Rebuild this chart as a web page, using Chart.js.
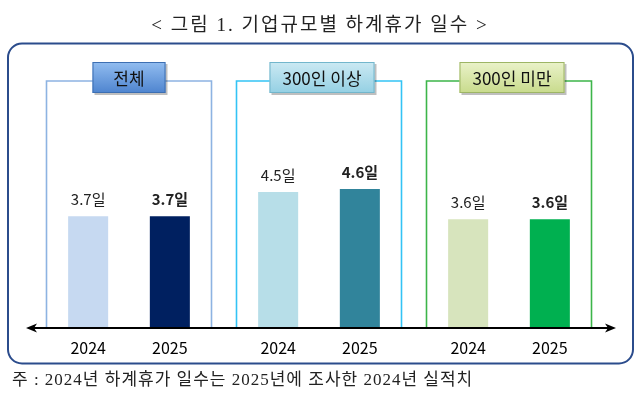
<!DOCTYPE html>
<html lang="ko">
<head>
<meta charset="utf-8">
<title>기업규모별 하계휴가 일수</title>
<script src="https://cdn.jsdelivr.net/npm/chart.js@4.4.1/dist/chart.umd.min.js"></script>
<style>
  html, body { margin: 0; padding: 0; background: #fff; }
  #wrap { position: relative; width: 640px; height: 394px; overflow: hidden; }
  #vacationChart { position: absolute; left: 0; top: 0; }
  .serif { position: absolute; font-family: "Liberation Serif", "DejaVu Serif", "Noto Sans CJK KR", serif; color: #222; white-space: nowrap; }
  #title { left: 0; top: 11px; width: 640px; text-align: center; font-size: 19px; line-height: 28px; letter-spacing: 2px; }
  #note { left: 12px; top: 368px; font-size: 17px; line-height: 24px; letter-spacing: 1px; }
</style>
</head>
<body>
<div id="wrap">
  <canvas id="vacationChart" width="640" height="394"></canvas>
  <div id="title" class="serif">&lt; 그림 1. 기업규모별 하계휴가 일수 &gt;</div>
  <div id="note" class="serif">주 : 2024년 하계휴가 일수는 2025년에 조사한 2024년 실적치</div>
</div>
<script>
const groups = ["전체", "300인 이상", "300인 미만"];
const years = ["2024", "2025"];
const days2024 = [3.7, 4.5, 3.6];
const days2025 = [3.7, 4.6, 3.6];

const colors2024 = ["#c6d9f1", "#b7dee8", "#d7e4bd"];
const colors2025 = ["#002060", "#31849b", "#00b050"];
const frameColors = ["#8db3e2", "#33c3f5", "#3db54a"];
const tagFills = [["#92bdf0", "#4e84cf"], ["#cbe9f3", "#94d0e3"], ["#eaf2c9", "#c8db8c"]];
const tagBorders = ["#3d6fb2", "#72b6cc", "#9db565"];
const tagWidths = [73, 105, 105];

const FONT = "'Noto Sans CJK KR', 'Noto Sans', sans-serif";
Chart.defaults.font.family = FONT;

// frames, axis arrow, labels and tag boxes
const decorPlugin = {
  id: "decor",
  beforeDraw(chart) {
    const ctx = chart.ctx;
    ctx.save();
    ctx.strokeStyle = "#2b4c8c";
    ctx.lineWidth = 2;
    ctx.beginPath();
    ctx.roundRect(8, 43.5, 625, 320, 14);
    ctx.stroke();
    ctx.restore();
  },
  beforeDatasetsDraw(chart) {
    const ctx = chart.ctx;
    const x = chart.scales.x;
    const base = chart.scales.y.getPixelForValue(0);
    const top = 81;
    const half = 82.5;
    ctx.save();
    ctx.lineWidth = 1.6;
    groups.forEach((g, i) => {
      const cx = x.getPixelForValue(i);
      ctx.strokeStyle = frameColors[i];
      ctx.beginPath();
      ctx.moveTo(cx - half, base);
      ctx.lineTo(cx - half, top);
      ctx.lineTo(cx + half, top);
      ctx.lineTo(cx + half, base);
      ctx.stroke();
    });
    ctx.restore();
  },
  afterDatasetsDraw(chart) {
    const ctx = chart.ctx;
    const x = chart.scales.x;
    const y0 = chart.scales.y.getPixelForValue(0);
    ctx.save();

    // axis with arrow heads
    const left = 26, right = 616;
    ctx.strokeStyle = "#000";
    ctx.fillStyle = "#000";
    ctx.lineWidth = 2;
    ctx.beginPath();
    ctx.moveTo(left + 4, y0);
    ctx.lineTo(right - 4, y0);
    ctx.stroke();
    [[left, 1], [right, -1]].forEach(([tip, d]) => {
      ctx.beginPath();
      ctx.moveTo(tip, y0);
      ctx.lineTo(tip + d * 11, y0 - 4.5);
      ctx.lineTo(tip + d * 8, y0);
      ctx.lineTo(tip + d * 11, y0 + 4.5);
      ctx.closePath();
      ctx.fill();
    });

    // value and year labels
    ctx.textAlign = "center";
    ctx.textBaseline = "middle";
    chart.data.datasets.forEach((ds, di) => {
      const meta = chart.getDatasetMeta(di);
      meta.data.forEach((bar, i) => {
        ctx.fillStyle = "#222";
        ctx.font = (di === 1 ? "bold " : "") + "15px " + FONT;
        ctx.fillText(ds.data[i] + "일", bar.x, bar.y - 17);
        ctx.font = "16px " + FONT;
        ctx.fillStyle = "#000";
        ctx.fillText(years[di], bar.x, 348);
      });
    });

    // group tags
    groups.forEach((g, i) => {
      const cx = x.getPixelForValue(i) + (i === 0 ? 0 : 3);
      const w = tagWidths[i], h = 31, ty = 62;
      const tx = cx - w / 2;
      ctx.fillStyle = "rgba(0,0,0,0.25)";
      ctx.fillRect(tx + 2, ty + 2, w, h);
      const grad = ctx.createLinearGradient(0, ty, 0, ty + h);
      grad.addColorStop(0, tagFills[i][0]);
      grad.addColorStop(1, tagFills[i][1]);
      ctx.fillStyle = grad;
      ctx.fillRect(tx, ty, w, h);
      ctx.strokeStyle = tagBorders[i];
      ctx.lineWidth = 1;
      ctx.strokeRect(tx + 0.5, ty + 0.5, w - 1, h - 1);
      ctx.fillStyle = "#111";
      ctx.font = "17px " + FONT;
      ctx.fillText(g, cx, ty + h / 2 + 1);
    });
    ctx.restore();
  }
};

new Chart(document.getElementById("vacationChart"), {
  type: "bar",
  data: {
    labels: groups,
    datasets: [
      { label: years[0], data: days2024, backgroundColor: colors2024 },
      { label: years[1], data: days2025, backgroundColor: colors2025 }
    ]
  },
  options: {
    responsive: false,
    animation: false,
    devicePixelRatio: 1,
    categoryPercentage: 0.86,
    barPercentage: 0.49,
    layout: { padding: { top: 26, bottom: 66, left: 34, right: 36 } },
    plugins: {
      legend: { display: false },
      tooltip: { enabled: false }
    },
    scales: {
      x: { display: false },
      y: { display: false, min: 0, max: 10 }
    }
  },
  plugins: [decorPlugin]
});
</script>
</body>
</html>
